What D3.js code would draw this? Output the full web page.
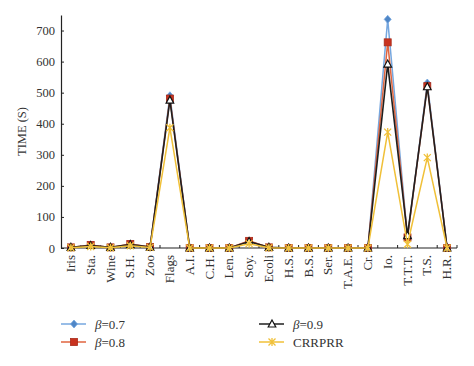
<!DOCTYPE html>
<html>
<head>
<meta charset="utf-8">
<script src="https://cdn.jsdelivr.net/npm/d3@7"></script>
<style>
  body { margin: 0; background: #fff; }
  text { font-family: "Liberation Serif", "DejaVu Serif", serif; fill: #333; }
</style>
</head>
<body>
<div id="chart"></div>
<script>
const categories = ['Iris', 'Sta.', 'Wine', 'S.H.', 'Zoo', 'Flags', 'A.I.', 'C.H.', 'Len.', 'Soy.',
  'Ecoli', 'H.S.', 'B.S.', 'Ser.', 'T.A.E.', 'Cr.', 'Io.', 'T.T.T.', 'T.S.', 'H.R.'];

const beta07 = [2, 9, 2, 12, 3, 490, 0, 0, 0, 22, 2, 0, 0, 0, 0, 0, 736, 33, 531, 0];
const beta08 = [2, 10, 2, 13, 3, 481, 0, 0, 0, 23, 2, 0, 0, 0, 0, 0, 662, 34, 521, 0];
const beta09 = [2, 8, 2, 11, 3, 476, 0, 0, 0, 21, 2, 0, 0, 0, 0, 0, 592, 40, 519, 0];
const crrprr = [1, 5, 1, 7, 2, 387, 0, 0, 0, 14, 1, 0, 0, 0, 0, 0, 373, 12, 291, 0];

const yTicks = [0, 100, 200, 300, 400, 500, 600, 700];

const series = [
  { name: '=0.7', greek: true, values: beta07, line: '#76a7df', fill: '#4f86c6', marker: 'diamond' },
  { name: '=0.8', greek: true, values: beta08, line: '#e0653f', fill: '#c8321f', marker: 'square' },
  { name: '=0.9', greek: true, values: beta09, line: '#1f1f1f', fill: '#fff', marker: 'triangle' },
  { name: 'CRRPRR', greek: false, values: crrprr, line: '#f0c038', fill: '#f0c038', marker: 'x' }
];

const W = 474, H = 366;
const margin = { top: 15, right: 17, bottom: 118, left: 61 };

const svg = d3.select('#chart').append('svg')
  .attr('width', W).attr('height', H);

const x = d3.scalePoint()
  .domain(categories)
  .range([margin.left, W - margin.right])
  .padding(0.5);

const y = d3.scaleLinear()
  .domain([0, 750])
  .range([H - margin.bottom, margin.top]);

const step = x.step();

// y axis, ticks point inward
const yAxis = svg.append('g')
  .attr('transform', `translate(${margin.left},0)`)
  .call(d3.axisLeft(y).tickValues(yTicks).tickSizeInner(-3).tickSizeOuter(0).tickPadding(6));
yAxis.select('.domain').attr('stroke', '#222').attr('stroke-width', 1.2);
yAxis.selectAll('.tick line').attr('stroke', '#222');
yAxis.selectAll('.tick text').attr('font-size', 12.5).attr('fill', '#333');

svg.append('text')
  .attr('transform', `translate(26,${(y(0) + y(750)) / 2}) rotate(-90)`)
  .attr('text-anchor', 'middle')
  .attr('font-size', 12.5)
  .text('TIME (S)');

// x axis
const xAxisG = svg.append('g').attr('transform', `translate(0,${y(0)})`);
xAxisG.append('line')
  .attr('x1', margin.left).attr('x2', W - margin.right)
  .attr('stroke', '#222').attr('stroke-width', 1.2);
xAxisG.selectAll('.bt')
  .data(d3.range(1, categories.length + 1))
  .join('line')
  .attr('class', 'bt')
  .attr('x1', i => margin.left + i * step)
  .attr('x2', i => margin.left + i * step)
  .attr('y1', 0).attr('y2', -3)
  .attr('stroke', '#222');
xAxisG.selectAll('.xl')
  .data(categories)
  .join('text')
  .attr('class', 'xl')
  .attr('transform', d => `translate(${x(d) + 4},7) rotate(-90)`)
  .attr('text-anchor', 'end')
  .attr('font-size', 13)
  .text(d => d);

// series
const line = d3.line()
  .x((d, i) => x(categories[i]))
  .y(d => y(d));

function drawMarker(g, type, s, cx, cy) {
  if (type === 'diamond') {
    g.append('path')
      .attr('d', `M${cx},${cy - 4}L${cx + 3.5},${cy}L${cx},${cy + 4}L${cx - 3.5},${cy}Z`)
      .attr('fill', s.fill).attr('stroke', s.line).attr('stroke-width', 0.8);
  } else if (type === 'square') {
    g.append('rect')
      .attr('x', cx - 3.5).attr('y', cy - 3.5).attr('width', 7).attr('height', 7)
      .attr('fill', s.fill).attr('stroke', '#a82a1a').attr('stroke-width', 0.8);
  } else if (type === 'triangle') {
    g.append('path')
      .attr('d', `M${cx},${cy - 4}L${cx + 3.8},${cy + 3}L${cx - 3.8},${cy + 3}Z`)
      .attr('fill', '#fff').attr('stroke', '#111').attr('stroke-width', 1.2);
  } else {
    g.append('path')
      .attr('d', `M${cx - 3.5},${cy - 3.5}L${cx + 3.5},${cy + 3.5}M${cx - 3.5},${cy + 3.5}L${cx + 3.5},${cy - 3.5}M${cx},${cy - 4}L${cx},${cy + 4}`)
      .attr('fill', 'none').attr('stroke', s.line).attr('stroke-width', 1.3);
  }
}

series.forEach(s => {
  const g = svg.append('g');
  g.append('path')
    .datum(s.values)
    .attr('d', line)
    .attr('fill', 'none')
    .attr('stroke', s.line)
    .attr('stroke-width', s.marker === 'triangle' ? 1.6 : 1.5);
  s.values.forEach((v, i) => drawMarker(g, s.marker, s, x(categories[i]), y(v)));
});

// legend
const legendPos = [[61, 324], [61, 342], [259, 324], [259, 342]];
series.forEach((s, i) => {
  const [lx, ly] = legendPos[i];
  const g = svg.append('g');
  g.append('line')
    .attr('x1', lx).attr('x2', lx + 25)
    .attr('y1', ly).attr('y2', ly)
    .attr('stroke', s.line).attr('stroke-width', 1.5);
  drawMarker(g, s.marker, s, lx + 13, ly);
  const t = g.append('text')
    .attr('x', lx + 34).attr('y', ly + 4.5)
    .attr('font-size', 13);
  if (s.greek) t.append('tspan').attr('font-style', 'italic').text('β');
  t.append('tspan').text(s.name);
});
</script>
</body>
</html>
